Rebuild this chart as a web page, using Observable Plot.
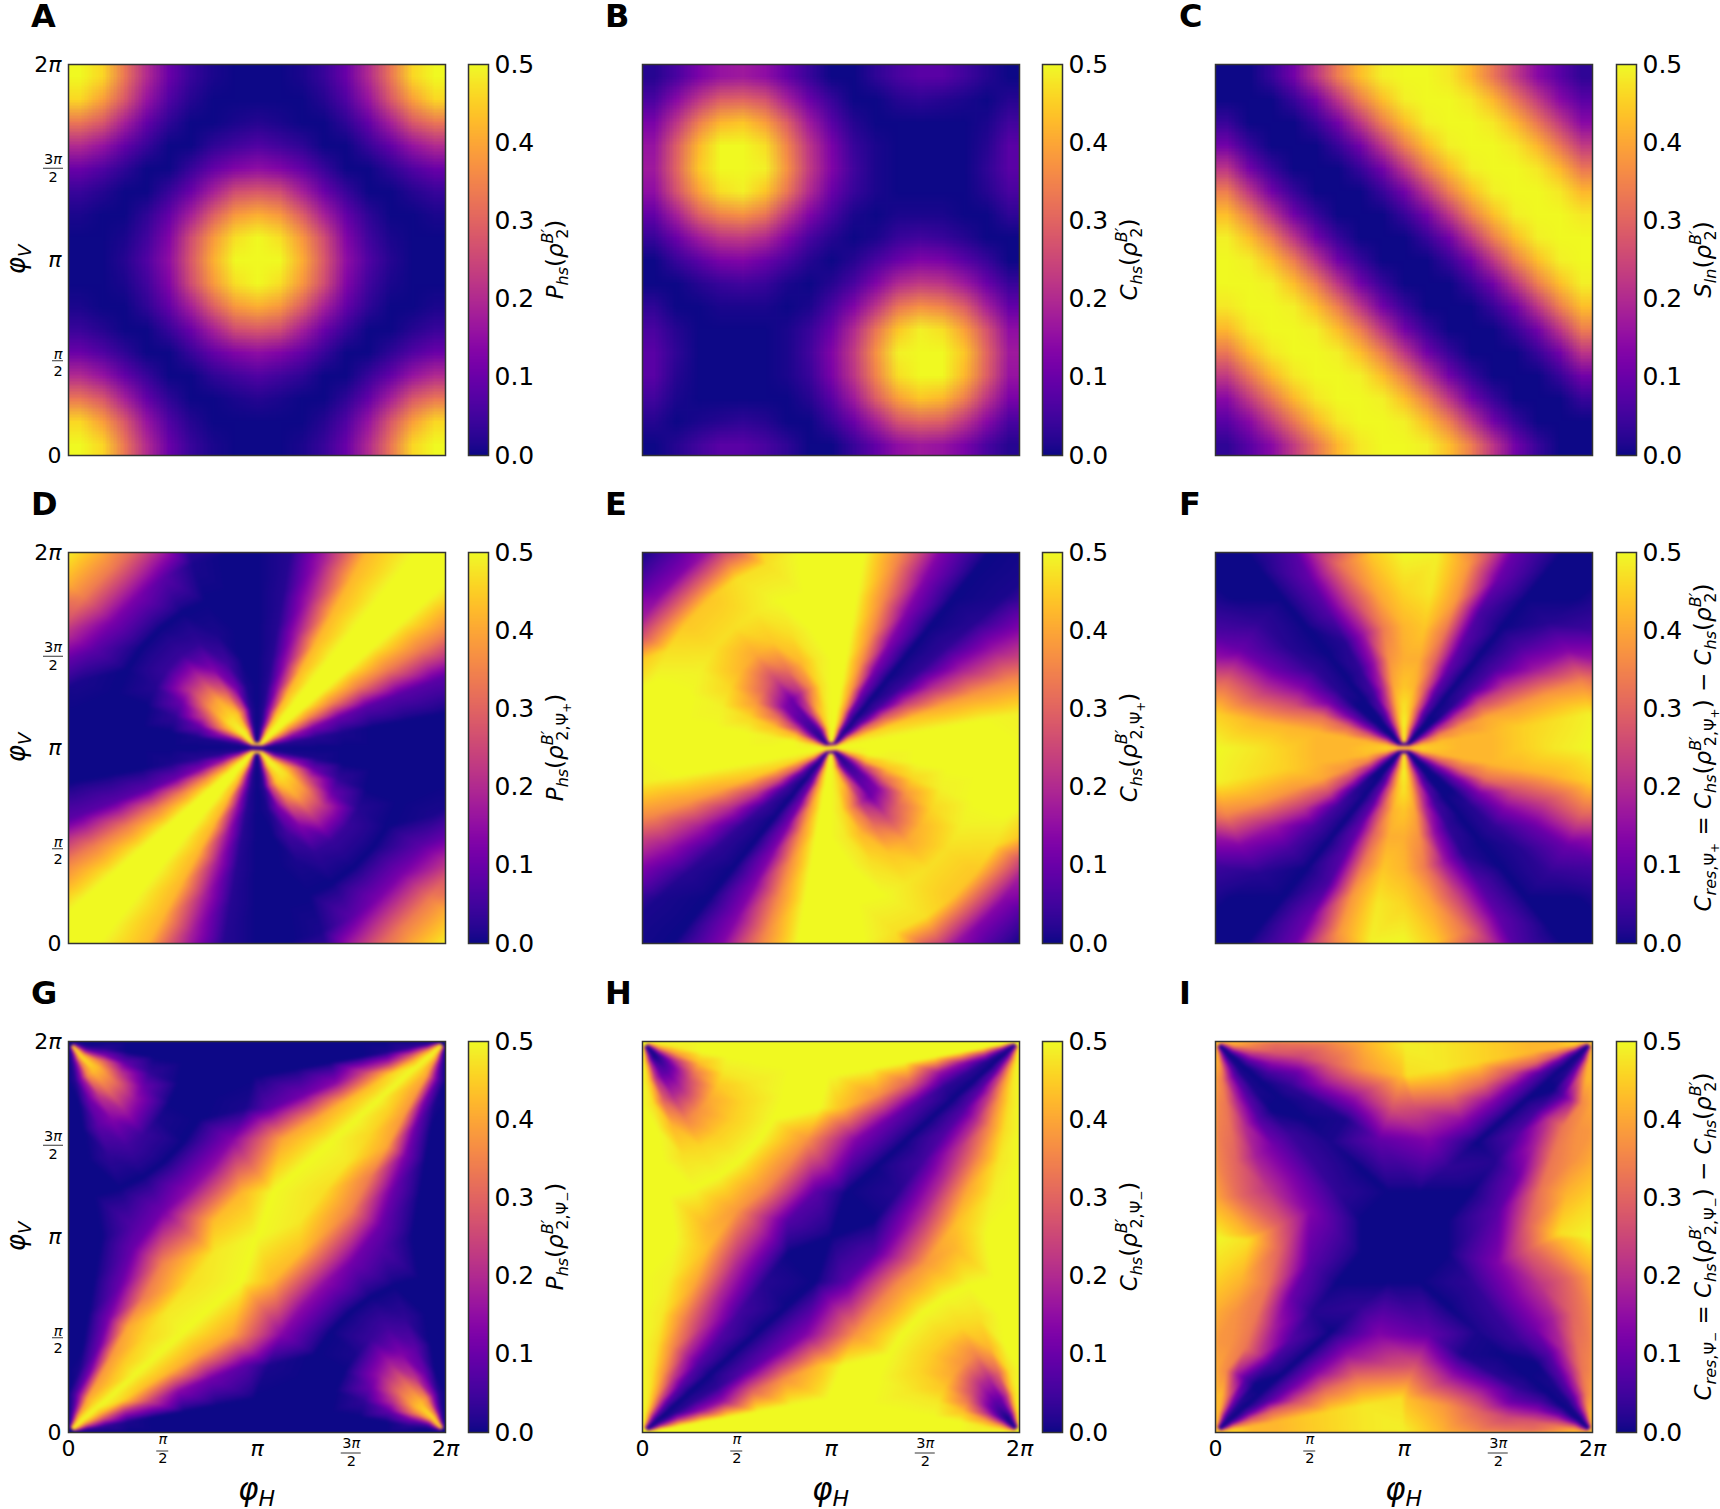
<!DOCTYPE html>
<html><head><meta charset="utf-8">
<script src="https://cdn.jsdelivr.net/npm/d3@7"></script>
<script src="https://cdn.jsdelivr.net/npm/@observablehq/plot@0.6"></script>
<style>
html,body{margin:0;padding:0;background:#fff;width:1720px;height:1509px;overflow:hidden;font-family:"DejaVu Sans",sans-serif}
#fig{position:relative;width:1720px;height:1509px}
#fig svg{position:absolute;overflow:visible;background:transparent}
.let{position:absolute;font:bold 32px "DejaVu Sans";line-height:32px;color:#000}
</style></head><body><div id="fig"></div>
<script>
// ---------- axis ticks (in units of pi) and colour-bar ticks
const wholeTicks=[0,1,2], wholeLabels=["0","π","2π"];
const fracTicks=[0.5,1.5], fracTop=["π","3π"], fracBottom=["2","2"];
const barTicks=[0,0.1,0.2,0.3,0.4,0.5];
const panelLetters=["A","B","C","D","E","F","G","H","I"];
// ---------- values, x 0.01 (peaks above 50 saturate, as in the reference)
const gridA=[
[54,46,33,20,10,4,1,0,0],[46,39,28,16,7,2,0,0,0],[33,28,18,9,3,0,0,1,2],
[20,16,9,4,0,0,3,5,7],[10,7,3,0,0,4,9,13,15],[4,2,0,0,4,10,18,26,28],
[1,0,0,3,9,18,29,38,41],[0,0,1,5,13,26,38,47,52],[0,0,2,7,15,28,41,52,58]];
const gridB=[
[2,6,12,16,17,15,9,4,0,0,3,6,8,8,5,2,0],
[6,14,22,29,30,27,18,10,4,0,0,2,3,2,1,0,2],
[12,22,34,42,44,39,29,17,8,2,0,0,0,0,0,1,5],
[16,29,42,50,53,47,35,22,12,4,1,0,0,0,0,2,8],
[17,30,44,53,58,49,37,23,13,5,1,0,0,0,0,3,8],
[15,27,39,47,49,44,33,20,10,4,1,0,0,0,0,2,6],
[9,18,29,35,37,33,22,13,6,1,0,1,1,1,0,0,3],
[4,10,17,22,23,20,13,6,2,0,1,4,5,4,2,0,0],
[0,4,8,12,13,10,6,2,0,2,6,10,13,12,8,4,0]];
const stripeC=[0,0,4,11,22,34,43,49,50,50,48,42,33,23,14,8,3];
const rings=[0.03,0.1,0.2,0.32,0.46,0.62,0.8,1,1.2,1.41];
const polarD=[
[0,2,17,38,50,50,42,17,2,0,2,20,42,50,48,28,8,1],
[0,2,17,38,50,50,42,17,2,0,2,22,44,50,48,30,9,1],
[0,2,16,37,50,50,42,17,2,0,2,26,44,47,47,38,16,1],
[0,2,13,36,50,50,42,17,2,0,1,12,30,40,38,25,10,1],
[0,1,10,35,50,50,42,17,2,0,0,5,13,22,22,10,3,0],
[0,0,8,34,50,50,42,18,2,0,0,1,3,4,4,2,0,0],
[0,0,8,34,50,50,42,18,2,0,0,0,0,0,0,0,0,0],
[0,0,8,34,50,50,42,18,2,0,0,1,8,12,12,8,1,0],
[0,0,8,34,50,50,42,18,2,0,0,7,28,34,34,24,10,0],
[0,0,8,34,50,50,42,18,2,0,0,10,30,48,48,30,10,0]];
const polarE=[
[50,50,47,34,10,0,10,38,50,50,46,30,10,2,2,14,36,48],
[50,50,47,34,10,0,10,38,50,50,46,30,10,3,3,14,36,48],
[50,50,46,30,7,0,10,38,50,50,47,42,25,7,7,22,42,50],
[50,50,45,27,5,0,11,38,50,50,47,35,20,10,13,30,43,49],
[50,50,43,23,4,0,12,37,50,50,48,42,32,25,30,38,46,50],
[50,50,40,20,3,0,13,37,50,50,50,47,44,40,42,46,49,50],
[50,50,38,18,3,0,13,36,50,50,50,50,48,47,47,49,50,50],
[50,49,36,17,2,0,13,36,50,50,50,47,47,44,44,47,50,50],
[50,49,33,15,1,0,13,36,50,50,50,42,18,13,14,20,42,50],
[50,49,30,12,1,0,13,36,50,50,50,42,12,1,1,12,42,50]];
const polarF=[
[46,43,30,12,0,0,10,28,42,50,42,28,10,0,0,12,30,43],
[46,43,30,12,0,0,10,28,42,50,42,28,10,0,0,12,30,43],
[44,43,35,18,0,0,8,28,43,48,42,26,8,0,0,10,28,42],
[42,42,37,22,2,0,8,29,42,44,40,20,5,0,0,10,30,42],
[42,42,40,25,5,0,9,30,41,41,37,16,3,0,2,12,32,42],
[45,45,38,22,6,0,8,33,44,42,34,17,2,0,3,13,27,42],
[48,47,38,17,6,0,6,38,48,46,40,25,7,0,2,10,25,42],
[50,49,35,13,2,0,10,38,49,50,44,32,9,0,3,10,30,45],
[47,40,20,5,0,0,10,30,42,45,46,18,7,0,0,6,22,44],
[45,40,20,5,0,0,10,25,40,45,40,15,5,0,0,5,20,42]];
const cornerG1=[
[0,3,25,42,50,47,38,18,5,0],[0,3,25,42,50,47,38,18,5,0],[0,3,25,42,50,45,40,20,6,0],
[0,1,20,46,50,43,38,12,1,0],[0,0,24,43,50,45,38,10,0,0],[0,0,14,42,50,46,40,12,0,0],
[0,0,11,40,50,48,34,10,0,0],[0,0,8,40,50,47,35,10,0,0],[0,0,4,30,50,48,36,10,0,0],[0,0,0,20,48,50,20,0,0,0]];
const cornerG2=[
[0,2,12,34,48,40,18,4,0,0],[0,2,12,34,48,40,18,4,0,0],[0,2,15,36,43,43,33,12,2,0],
[0,0,10,22,32,32,22,9,0,0],[0,0,8,13,18,16,10,3,0,0],[0,0,3,5,4,1,0,0,0,0],
[0,0,0,0,0,0,0,0,0,0],[0,0,7,11,15,15,13,1,0,0],[0,0,10,30,43,42,40,20,5,0],[0,0,10,30,50,50,30,10,0,0]];
const cornerH1=[
[50,50,20,3,0,8,22,38,48,50],[50,50,20,3,0,8,22,38,48,50],[50,50,20,2,0,8,25,40,48,50],
[50,50,15,3,0,8,23,38,47,50],[50,50,17,3,0,7,20,36,47,50],[50,50,30,7,0,7,22,36,48,50],
[50,50,37,10,0,5,20,40,49,50],[50,50,43,13,0,2,20,43,50,50],[50,50,46,20,0,0,20,45,50,50],[50,50,50,10,0,0,10,50,50,50]];
const cornerH2=[
[50,42,20,5,0,3,20,38,48,50],[50,42,20,5,0,3,20,38,48,50],[50,45,22,10,8,10,20,38,48,50],
[50,47,30,20,20,25,33,43,50,50],[50,50,42,35,37,40,44,48,50,50],[50,50,47,46,45,45,46,48,50,50],
[50,50,50,50,50,50,50,50,50,50],[50,50,42,38,36,35,38,50,50,50],[50,50,40,25,7,8,25,40,50,50],[50,50,40,20,0,0,20,40,50,50]];
const cornerI1=[
[45,46,30,8,0,2,10,28,42,42],[45,46,30,8,0,2,10,28,42,42],[42,42,28,8,0,2,12,30,42,42],
[42,42,30,7,0,0,7,18,36,40],[44,44,27,10,0,5,22,33,37,38],[46,46,32,13,0,7,18,33,37,41],
[48,48,33,15,0,2,10,33,42,46],[50,47,26,13,3,0,8,30,47,50],[50,45,25,10,0,0,6,25,45,50],[50,45,25,5,0,0,5,25,45,50]];
const cornerI2=[
[42,40,25,10,1,0,10,27,40,42],[42,40,25,10,1,0,10,27,40,42],[38,34,20,8,1,0,7,20,33,38],
[36,33,20,8,1,0,5,15,28,33],[35,32,20,7,0,0,3,10,25,34],[36,30,18,11,4,0,2,17,30,36],
[40,30,22,13,4,1,1,18,38,42],[49,42,29,13,3,0,9,27,43,49],[50,45,25,10,0,0,10,25,45,50],[50,45,25,10,0,0,10,25,45,50]];
const centreValues={G:50,H:0,I:0};

// ---------- tables built from the readings
const gridAFlat=(()=>{const r=gridA.map(q=>[...q,...q.slice(0,-1).reverse()]);return [...r,...r.slice(0,-1).reverse()].flat();})();
const gridBFlat=[...gridB,...gridB.slice(0,-1).reverse().map(q=>[...q].reverse())].flat();
const gridCFlat=d3.range(17).flatMap(k=>d3.range(17).map(i=>stripeC[Math.abs(i-k)]));
const rad=d=>d*Math.PI/180;
function centreSamples(tab){const out=[];
  tab.forEach((row,i)=>row.forEach((v,j)=>{const c=rings[i]*Math.cos(rad(j*10)),s=rings[i]*Math.sin(rad(j*10));
    out.push({x:1+c,y:1+s,v:v/100},{x:1-c,y:1-s,v:v/100});}));
  return out;}
function cornerSamples(t1,t2,centre){const out=[{x:1,y:1,v:centre/100}];
  const push=(x,y,v)=>out.push({x,y,v:v/100},{x:2-x,y:2-y,v:v/100});
  t1.forEach((row,i)=>row.forEach((v,j)=>{const c=rings[i]*Math.cos(rad(j*10)),s=rings[i]*Math.sin(rad(j*10));
    if(c<=1.0001&&s<=1.0001)push(Math.max(c,0),s,v);}));
  t2.forEach((row,i)=>row.forEach((v,j)=>{const c=rings[i]*Math.cos(rad(90+j*10)),s=rings[i]*Math.sin(rad(90+j*10));
    if(c>=-1.0001&&s<=1.0001)push(2+Math.min(c,0),s,v);}));
  return out;}

// ---------- math labels
const I=t=>[t,"i",0],S=(t,i)=>[t,i?"i":"n",-1],T=t=>[t,"n",-2],N=t=>[t,"n",0];
const rhoPlain=[I("ρ"),["B′","i",1],["2","n",-1,-10],N(")")];
const rhoPsi=s=>[I("ρ"),["B′","i",1],["2,Ψ","n",-1,-10],T(s),N(")")];
const labelOf=(L,h)=>[I(L),...h.map(t=>S(t,1)),N("(")];
const labels=[
 [...labelOf("P",["hs"]),...rhoPlain],
 [...labelOf("C",["hs"]),...rhoPlain],
 [...labelOf("S",["ln"]),...rhoPlain],
 [...labelOf("P",["hs"]),...rhoPsi("+")],
 [...labelOf("C",["hs"]),...rhoPsi("+")],
 [I("C"),S("res",1),S(",Ψ"),T("+"),N(" = "),...labelOf("C",["hs"]),...rhoPsi("+"),N(" − "),...labelOf("C",["hs"]),...rhoPlain],
 [...labelOf("P",["hs"]),...rhoPsi("−")],
 [...labelOf("C",["hs"]),...rhoPsi("−")],
 [I("C"),S("res",1),S(",Ψ"),T("−"),N(" = "),...labelOf("C",["hs"]),...rhoPsi("−"),N(" − "),...labelOf("C",["hs"]),...rhoPlain]
];
const OFF={0:0,"-1":5,1:-10,"-2":8},SIZE={0:23,"-1":16,1:16,"-2":12};
function mathMark(segs,px,py,base=1){return ()=>{
  const t=d3.create("svg:text").attr("transform",`translate(${px},${py}) rotate(-90)`)
    .attr("text-anchor","middle").attr("fill","#000").attr("font-family","DejaVu Sans");
  let off=0;
  segs.forEach(([s,st,lvl,dx])=>{
    const ts=t.append("svg:tspan").text(s).attr("font-size",SIZE[lvl]*base)
      .attr("font-style",st==="i"?"italic":"normal").attr("dy",(OFF[lvl]-off)*base).attr("xml:space","preserve");
    if(dx)ts.attr("dx",dx);
    off=OFF[lvl];});
  return t.node();};}
function italicPi(svg){svg.querySelectorAll("text,tspan").forEach(el=>{
  if(!el.children.length&&el.textContent.includes("π"))el.innerHTML=el.textContent.replace(/π/g,'<tspan font-style="italic">π</tspan>');});}

// ---------- layout
const colLeft=[68,642,1215],rowTop=[63.5,552,1041],barLeft=[468,1042,1616];
const PW=377,PH=391,BW=20,ML=68,MB=80,MT=5,MR=5;
const colorScale={type:"linear",scheme:"plasma",domain:[0,0.5],clamp:true};
const fig=document.getElementById("fig");
function place(svg,left,top){svg.style.left=left+"px";svg.style.top=top+"px";fig.appendChild(svg);}

const gridMark=f=>Plot.raster(f,{width:17,height:17,x1:0,x2:2,y1:2,y2:0,fill:d=>d/100,imageRendering:"auto"});
const sampMark=s=>Plot.raster(s,{x:"x",y:"y",fill:"v",interpolate:"barycentric",pixelSize:1,x1:-0.04,x2:2.04,y1:2.04,y2:-0.04,clip:"frame"});
const heat=[gridMark(gridAFlat),gridMark(gridBFlat),gridMark(gridCFlat),
  sampMark(centreSamples(polarD)),sampMark(centreSamples(polarE)),sampMark(centreSamples(polarF)),
  sampMark(cornerSamples(cornerG1,cornerG2,centreValues.G)),sampMark(cornerSamples(cornerH1,cornerH2,centreValues.H)),sampMark(cornerSamples(cornerI1,cornerI2,centreValues.I))];

const fracStyle={fontSize:14.5,textAnchor:"middle"};
const fracBarY=(i,{y},v,d)=>{const g=d3.create("svg:g");
  fracTicks.forEach((t,k)=>g.append("svg:line").attr("x1",d.marginLeft-(k?25:16)).attr("x2",d.marginLeft-5)
    .attr("y1",y(t)+(k?6.5:3.5)).attr("y2",y(t)+(k?6.5:3.5)).attr("stroke","#000").attr("stroke-width",0.8));return g.node();};
const fracBarX=(i,{x},v,d)=>{const g=d3.create("svg:g"),b=d.height-d.marginBottom;
  fracTicks.forEach((t,k)=>g.append("svg:line").attr("x1",x(t)-(k?10:6)).attr("x2",x(t)+(k?10:6))
    .attr("y1",b+(k?21:19)).attr("y2",b+(k?21:19)).attr("stroke","#000").attr("stroke-width",0.8));return g.node();};

heat.forEach((mark,n)=>{
  const c=n%3,r=Math.floor(n/3),marks=[mark,Plot.frame({stroke:"#333",strokeWidth:1.5})];
  if(c===0){
    marks.push(Plot.axisY({ticks:wholeTicks,tickSize:0,tickPadding:7,label:null,fontSize:22,tickFormat:t=>wholeLabels[wholeTicks.indexOf(t)]}));
    fracTicks.forEach((t,k)=>{const cx=k?-15.5:-10.5;
      marks.push(Plot.text([t],{y:d=>d,frameAnchor:"left",dx:cx,dy:k?-3:-3.5,text:()=>fracTop[k],...fracStyle}),
        Plot.text([t],{y:d=>d,frameAnchor:"left",dx:cx,dy:k?15.5:13.5,text:()=>fracBottom[k],...fracStyle}));});
    marks.push(fracBarY,mathMark([["φ","i",0],["V","i",-1]],25,MT+PH/2,1.13));
  }
  if(r===2){
    marks.push(Plot.axisX({ticks:wholeTicks,tickSize:0,tickPadding:8,label:null,fontSize:22,tickFormat:t=>wholeLabels[wholeTicks.indexOf(t)]}));
    fracTicks.forEach((t,k)=>{
      marks.push(Plot.text([t],{x:d=>d,frameAnchor:"bottom",dy:k?15:11,text:()=>fracTop[k],...fracStyle}),
        Plot.text([t],{x:d=>d,frameAnchor:"bottom",dy:k?33:30,text:()=>fracBottom[k],...fracStyle}));});
    marks.push(fracBarX);
  }
  const svg=Plot.plot({width:ML+PW+MR,height:MT+PH+MB,marginLeft:ML,marginRight:MR,marginTop:MT,marginBottom:MB,
    x:{domain:[0,2],axis:null},y:{domain:[0,2],axis:null},color:colorScale,
    style:{background:"transparent",fontFamily:"DejaVu Sans",color:"#000",overflow:"visible"},marks});
  if(n>=3)svg.querySelectorAll("image").forEach(im=>im.style.filter="blur(1.8px)");
  if(r===2){const t=d3.select(svg).append("text").attr("transform",`translate(${ML+PW/2},${MT+PH+68})`).attr("text-anchor","middle").attr("font-family","DejaVu Sans").attr("fill","#000");
    t.append("tspan").text("φ").attr("font-size",31).attr("font-style","italic");
    t.append("tspan").text("H").attr("font-size",22).attr("font-style","italic").attr("dy",6);}
  italicPi(svg);
  place(svg,colLeft[c]-ML,rowTop[r]-MT);

  // colour bar
  const ramp=d3.range(256).map(i=>0.5*(1-(i+.5)/256));
  const bar=Plot.plot({width:BW+95,height:MT+PH+MB,marginLeft:0,marginRight:95,marginTop:MT,marginBottom:MB,
    x:{domain:[0,1],axis:null},y:{domain:[0,0.5],axis:null},color:colorScale,
    style:{background:"transparent",fontFamily:"DejaVu Sans",color:"#000",overflow:"visible"},
    marks:[Plot.raster(ramp,{width:1,height:256,x1:0,x2:1,y1:0.5,y2:0,fill:d=>d}),
      Plot.frame({stroke:"#333",strokeWidth:1.5}),
      Plot.axisY({anchor:"right",ticks:barTicks,tickSize:0,tickPadding:6,label:null,fontSize:25,tickFormat:d3.format(".1f")}),
      mathMark(labels[n],BW+68+7,MT+PH/2)]});
  place(bar,barLeft[c],rowTop[r]-MT);

  const l=document.createElement("div");l.className="let";l.textContent=panelLetters[n];
  l.style.left=[31,605,1179][c]+"px";l.style.top=[0,488,977][r]+"px";fig.appendChild(l);
});
</script></body></html>
